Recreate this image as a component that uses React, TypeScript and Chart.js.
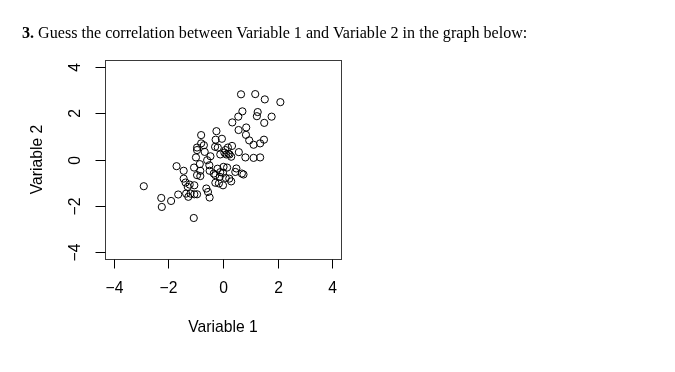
import React, { useEffect, useRef } from "react";
import { Chart, registerables } from "chart.js";

Chart.register(...registerables);

const titleNumber = "3.";
const titleText = " Guess the correlation between Variable 1 and Variable 2 in the graph below:";
const xAxisTitle = "Variable 1";
const yAxisTitle = "Variable 2";
const xTicks = [-4, -2, 0, 2, 4];
const yTicks = [-4, -2, 0, 2, 4];

const variable1 = [
  0.66, 1.18, 1.53, 2.10, 0.71, 1.27, 1.24, 1.78, 0.56, 0.34,
  1.51, 0.85, 0.57, -0.24, -0.80, 0.84, 0.96, 1.50, 1.12, 1.36,
  -0.04, -0.27, -0.80, -0.95, -0.95, -0.29, -0.19, 0.33, 0.18, 0.09,
  -0.67, 0.58, -0.46, -0.10, 0.12, 0.24, 0.30, -0.99, -0.58, 0.82,
  1.12, 1.36, -1.70, -1.44, -1.06, -0.83, -0.50, -0.49, -0.34, 0.02,
  0.00, -0.28, 0.49, 0.45, 0.75, 0.69, 0.23, -0.12, 0.10, -0.95,
  -0.83, -1.44, -1.37, -1.22, -1.29, -1.05, -0.28, -0.15, 0.00, -2.90,
  -2.26, -2.24, -1.90, -1.64, -1.35, -1.27, -1.19, -1.05, -0.95, -0.61,
  -0.55, -0.49, -1.07, -0.70, 0.05, 0.20, -0.20, 0.30, -0.10, -0.85,
  0.15,
];
const variable2 = [
  2.83, 2.84, 2.61, 2.49, 2.09, 2.06, 1.88, 1.86, 1.86, 1.61,
  1.59, 1.39, 1.28, 1.23, 1.06, 1.07, 0.83, 0.86, 0.64, 0.70,
  0.90, 0.86, 0.70, 0.52, 0.41, 0.55, 0.52, 0.59, 0.52, 0.41,
  0.33, 0.32, 0.14, 0.22, 0.22, 0.22, 0.12, 0.09, -0.03, 0.09,
  0.07, 0.09, -0.29, -0.49, -0.35, -0.49, -0.25, -0.49, -0.61, -0.32,
  -0.58, -0.68, -0.39, -0.54, -0.65, -0.61, -0.83, -0.75, -0.80, -0.68,
  -0.72, -0.83, -1.00, -1.09, -1.19, -1.12, -1.01, -1.04, -1.12, -1.16,
  -1.67, -2.06, -1.80, -1.52, -1.48, -1.62, -1.48, -1.51, -1.51, -1.26,
  -1.41, -1.65, -2.54, 0.62, 0.30, 0.25, -0.40, -0.95, -0.55, -0.20,
  -0.35,
];

const SANS = "'Liberation Sans', Arial, Helvetica, sans-serif";

const rAxesPlugin = {
  id: "rAxes",
  afterDraw(chart: any) {
    const ctx = chart.ctx;
    const { left, right, top, bottom } = chart.chartArea;
    const xs = chart.scales.x;
    const ys = chart.scales.y;
    ctx.save();
    ctx.strokeStyle = "#3a3a3a";
    ctx.lineWidth = 1;
    ctx.strokeRect(Math.round(left) + 0.5, Math.round(top) + 0.5, Math.round(right - left), Math.round(bottom - top));
    ctx.strokeStyle = "#000";
    ctx.fillStyle = "#000";
    ctx.font = `15.7px ${SANS}`;
    ctx.textAlign = "center";
    ctx.textBaseline = "middle";
    const bx = Math.round(bottom) + 0.5;
    xTicks.forEach((t) => {
      const px = Math.round(xs.getPixelForValue(t)) + 0.5;
      ctx.beginPath();
      ctx.moveTo(px, bx);
      ctx.lineTo(px, bx + 9);
      ctx.stroke();
      ctx.fillText(t < 0 ? "\u2212" + Math.abs(t) : String(t), px, bottom + 30);
    });
    const lx = Math.round(left) + 0.5;
    yTicks.forEach((t) => {
      const py = Math.round(ys.getPixelForValue(t)) + 0.5;
      ctx.beginPath();
      ctx.moveTo(lx, py);
      ctx.lineTo(lx - 10, py);
      ctx.stroke();
      ctx.save();
      ctx.translate(left - 29, py);
      ctx.rotate(-Math.PI / 2);
      ctx.fillText(t < 0 ? "\u2212" + Math.abs(t) : String(t), 0, 0);
      ctx.restore();
    });
    ctx.fillText(xAxisTitle, (left + right) / 2, bottom + 69);
    ctx.save();
    ctx.translate(left - 67, (top + bottom) / 2);
    ctx.rotate(-Math.PI / 2);
    ctx.fillText(yAxisTitle, 0, 0);
    ctx.restore();
    ctx.restore();
  },
};

export default function App() {
  const ref = useRef<HTMLCanvasElement | null>(null);
  useEffect(() => {
    document.body.style.margin = "0";
    const canvas = ref.current;
    if (!canvas) return;
    const chart = new Chart(canvas, {
      type: "scatter",
      data: {
        datasets: [
          {
            data: variable1.map((x, i) => ({ x, y: variable2[i] })),
            pointRadius: 3.6,
            pointBorderWidth: 1,
            pointBorderColor: "#000",
            pointBackgroundColor: "rgba(0,0,0,0)",
            pointHoverRadius: 3.6,
          },
        ],
      },
      options: {
        animation: false,
        responsive: false,
        devicePixelRatio: 1,
        layout: { padding: { left: 105, top: 60, right: 334, bottom: 113 } },
        plugins: { legend: { display: false }, tooltip: { enabled: false }, title: { display: false } },
        scales: {
          x: { type: "linear", min: -4.32, max: 4.32, display: false },
          y: { type: "linear", min: -4.32, max: 4.32, display: false },
        },
      },
      plugins: [rAxesPlugin],
    });
    return () => chart.destroy();
  }, []);
  return (
    <div style={{ position: "relative", width: 675, height: 372, background: "#fff" }}>
      <div
        style={{
          position: "absolute",
          left: 22,
          top: 24,
          fontFamily: "'Liberation Serif', 'Times New Roman', serif",
          fontSize: 16.1,
          color: "#000",
          whiteSpace: "nowrap",
          lineHeight: "18px",
        }}
      >
        <b>{titleNumber}</b>
        {titleText}
      </div>
      <canvas ref={ref} width={675} height={372} style={{ display: "block" }} />
    </div>
  );
}
